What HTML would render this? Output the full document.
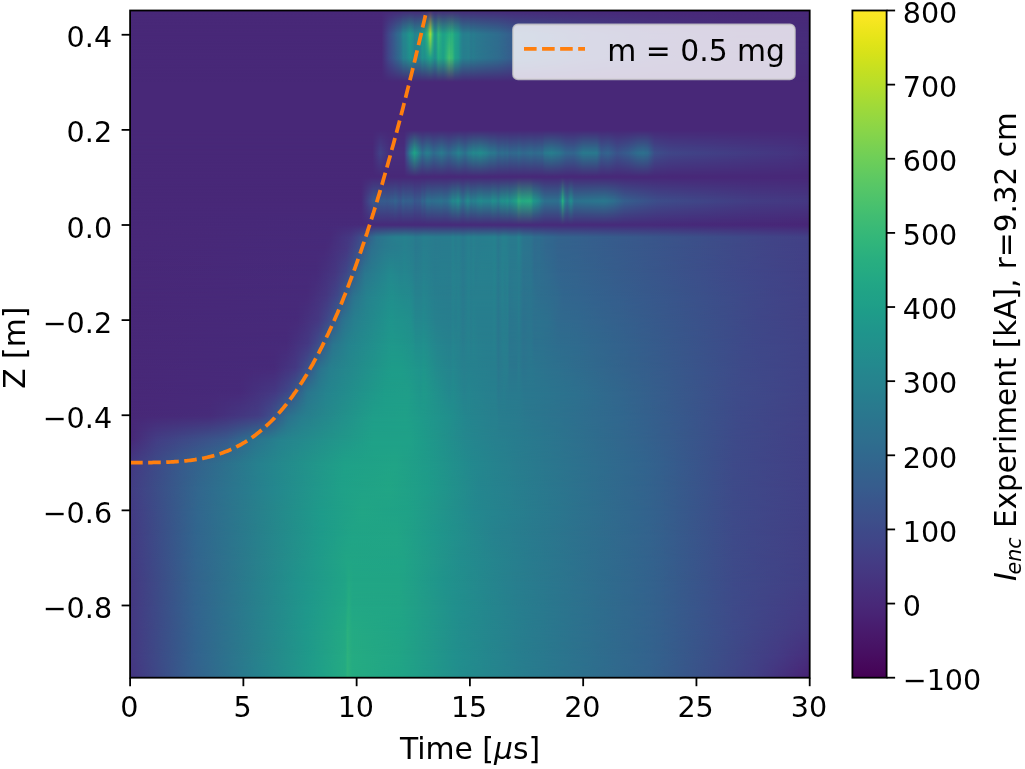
<!DOCTYPE html>
<html><head><meta charset="utf-8"><title>I_enc Experiment</title>
<style>html,body{margin:0;padding:0;background:#fff}svg{display:block}text{font-family:'DejaVu Sans','Liberation Sans',sans-serif;font-size:28.6px;fill:#000}</style></head>
<body>
<svg width="1025" height="769" viewBox="0 0 1025 769">
<defs>
<linearGradient id="r0"><stop offset="0" stop-color="#453581"/><stop offset="0.085" stop-color="#355e8d"/><stop offset="0.1883" stop-color="#26828e"/><stop offset="0.2817" stop-color="#1fa188"/><stop offset="0.3167" stop-color="#25ab82"/><stop offset="0.32" stop-color="#2db27d"/><stop offset="0.3267" stop-color="#25ac82"/><stop offset="0.4" stop-color="#20a486"/><stop offset="0.4867" stop-color="#228d8d"/><stop offset="0.5867" stop-color="#287c8e"/><stop offset="0.7633" stop-color="#33638d"/><stop offset="0.92" stop-color="#423f85"/><stop offset="0.99" stop-color="#482677"/><stop offset="1" stop-color="#482374"/></linearGradient>
<linearGradient id="r1"><stop offset="0" stop-color="#453882"/><stop offset="0.09833" stop-color="#32648e"/><stop offset="0.2633" stop-color="#1f9a8a"/><stop offset="0.3167" stop-color="#24aa83"/><stop offset="0.32" stop-color="#2cb17e"/><stop offset="0.3267" stop-color="#25ab82"/><stop offset="0.395" stop-color="#21a585"/><stop offset="0.48" stop-color="#218f8d"/><stop offset="0.5717" stop-color="#277e8e"/><stop offset="0.7683" stop-color="#33628d"/><stop offset="0.9533" stop-color="#443b84"/><stop offset="1" stop-color="#472f7d"/></linearGradient>
<linearGradient id="r2"><stop offset="0" stop-color="#453882"/><stop offset="0.09833" stop-color="#32648e"/><stop offset="0.2583" stop-color="#1f988b"/><stop offset="0.3167" stop-color="#23a983"/><stop offset="0.32" stop-color="#2ab07f"/><stop offset="0.3267" stop-color="#24aa83"/><stop offset="0.4017" stop-color="#20a486"/><stop offset="0.4867" stop-color="#228d8d"/><stop offset="0.5867" stop-color="#287c8e"/><stop offset="0.7683" stop-color="#33628d"/><stop offset="0.8883" stop-color="#3e4a89"/><stop offset="1" stop-color="#453882"/></linearGradient>
<linearGradient id="r3"><stop offset="0" stop-color="#453882"/><stop offset="0.09667" stop-color="#32648e"/><stop offset="0.2617" stop-color="#1f988b"/><stop offset="0.3167" stop-color="#21a685"/><stop offset="0.3217" stop-color="#26ad81"/><stop offset="0.3267" stop-color="#22a785"/><stop offset="0.3967" stop-color="#21a585"/><stop offset="0.48" stop-color="#218f8d"/><stop offset="0.5717" stop-color="#277e8e"/><stop offset="0.7683" stop-color="#33628d"/><stop offset="0.8883" stop-color="#3e4a89"/><stop offset="1" stop-color="#443b84"/></linearGradient>
<linearGradient id="r4"><stop offset="0" stop-color="#453882"/><stop offset="0.09333" stop-color="#33638d"/><stop offset="0.2467" stop-color="#20938c"/><stop offset="0.3167" stop-color="#20a486"/><stop offset="0.3217" stop-color="#23a983"/><stop offset="0.3283" stop-color="#21a685"/><stop offset="0.395" stop-color="#21a585"/><stop offset="0.4617" stop-color="#20938c"/><stop offset="0.5567" stop-color="#27808e"/><stop offset="0.7683" stop-color="#33628d"/><stop offset="0.8883" stop-color="#3e4a89"/><stop offset="1" stop-color="#423f85"/></linearGradient>
<linearGradient id="r5"><stop offset="0" stop-color="#443983"/><stop offset="0.09667" stop-color="#32658e"/><stop offset="0.275" stop-color="#1f9a8a"/><stop offset="0.3183" stop-color="#21a585"/><stop offset="0.4017" stop-color="#20a486"/><stop offset="0.4867" stop-color="#228d8d"/><stop offset="0.5833" stop-color="#287c8e"/><stop offset="0.7683" stop-color="#33628d"/><stop offset="0.8883" stop-color="#3e4a89"/><stop offset="1" stop-color="#423f85"/></linearGradient>
<linearGradient id="r6"><stop offset="0" stop-color="#443a83"/><stop offset="0.09833" stop-color="#31668e"/><stop offset="0.2817" stop-color="#1e9b8a"/><stop offset="0.3267" stop-color="#20a486"/><stop offset="0.3917" stop-color="#21a585"/><stop offset="0.45" stop-color="#1f978b"/><stop offset="0.535" stop-color="#26828e"/><stop offset="0.7633" stop-color="#33638d"/><stop offset="0.8883" stop-color="#3e4a89"/><stop offset="1" stop-color="#423f85"/></linearGradient>
<linearGradient id="r7"><stop offset="0" stop-color="#443b84"/><stop offset="0.1" stop-color="#31678e"/><stop offset="0.2817" stop-color="#1e9b8a"/><stop offset="0.3417" stop-color="#21a585"/><stop offset="0.4083" stop-color="#1fa287"/><stop offset="0.505" stop-color="#23888e"/><stop offset="0.7683" stop-color="#33628d"/><stop offset="0.8883" stop-color="#3e4a89"/><stop offset="1" stop-color="#424086"/></linearGradient>
<linearGradient id="r8"><stop offset="0" stop-color="#433d84"/><stop offset="0.1033" stop-color="#31688e"/><stop offset="0.2117" stop-color="#24878e"/><stop offset="0.3133" stop-color="#1fa188"/><stop offset="0.3817" stop-color="#21a585"/><stop offset="0.4367" stop-color="#1e9c89"/><stop offset="0.5133" stop-color="#24868e"/><stop offset="0.7683" stop-color="#33628d"/><stop offset="0.8883" stop-color="#3e4a89"/><stop offset="1" stop-color="#424086"/></linearGradient>
<linearGradient id="r9"><stop offset="0" stop-color="#443983"/><stop offset="0.075" stop-color="#375a8c"/><stop offset="0.19" stop-color="#26818e"/><stop offset="0.315" stop-color="#1fa088"/><stop offset="0.39" stop-color="#20a486"/><stop offset="0.4433" stop-color="#1f998a"/><stop offset="0.5033" stop-color="#23888e"/><stop offset="0.57" stop-color="#287d8e"/><stop offset="0.7583" stop-color="#32648e"/><stop offset="0.8883" stop-color="#3e4a89"/><stop offset="1" stop-color="#424086"/></linearGradient>
<linearGradient id="r10"><stop offset="0" stop-color="#482878"/><stop offset="0.03833" stop-color="#433d84"/><stop offset="0.1417" stop-color="#38598c"/><stop offset="0.1817" stop-color="#2c718e"/><stop offset="0.2217" stop-color="#26828e"/><stop offset="0.3583" stop-color="#1fa188"/><stop offset="0.4117" stop-color="#1fa188"/><stop offset="0.4283" stop-color="#1e9c89"/><stop offset="0.495" stop-color="#24878e"/><stop offset="0.5383" stop-color="#27808e"/><stop offset="0.5467" stop-color="#277f8e"/><stop offset="0.5717" stop-color="#287c8e"/><stop offset="0.7533" stop-color="#33638d"/><stop offset="0.8933" stop-color="#3e4a89"/><stop offset="1" stop-color="#424086"/></linearGradient>
<linearGradient id="r11"><stop offset="0" stop-color="#482878"/><stop offset="0.1167" stop-color="#472c7a"/><stop offset="0.1883" stop-color="#433d84"/><stop offset="0.2067" stop-color="#3e4c8a"/><stop offset="0.2317" stop-color="#2d708e"/><stop offset="0.2533" stop-color="#287d8e"/><stop offset="0.3583" stop-color="#1f9e89"/><stop offset="0.405" stop-color="#1fa088"/><stop offset="0.4283" stop-color="#1f9a8a"/><stop offset="0.4733" stop-color="#218e8d"/><stop offset="0.4933" stop-color="#24868e"/><stop offset="0.5317" stop-color="#27808e"/><stop offset="0.5383" stop-color="#27808e"/><stop offset="0.5433" stop-color="#287d8e"/><stop offset="0.5567" stop-color="#287c8e"/><stop offset="0.57" stop-color="#297b8e"/><stop offset="0.5833" stop-color="#2a788e"/><stop offset="0.7233" stop-color="#31678e"/><stop offset="0.895" stop-color="#3e4a89"/><stop offset="1" stop-color="#424186"/></linearGradient>
<linearGradient id="r12"><stop offset="0" stop-color="#482878"/><stop offset="0.1617" stop-color="#472a7a"/><stop offset="0.2133" stop-color="#443983"/><stop offset="0.2333" stop-color="#3e4989"/><stop offset="0.26" stop-color="#2b748e"/><stop offset="0.2883" stop-color="#25838e"/><stop offset="0.375" stop-color="#1e9d89"/><stop offset="0.4083" stop-color="#1f9e89"/><stop offset="0.4267" stop-color="#1f968b"/><stop offset="0.4317" stop-color="#1f998a"/><stop offset="0.47" stop-color="#23888e"/><stop offset="0.475" stop-color="#228b8d"/><stop offset="0.4917" stop-color="#26828e"/><stop offset="0.4983" stop-color="#25848e"/><stop offset="0.5317" stop-color="#277f8e"/><stop offset="0.5383" stop-color="#277f8e"/><stop offset="0.5417" stop-color="#297a8e"/><stop offset="0.55" stop-color="#287d8e"/><stop offset="0.5567" stop-color="#297a8e"/><stop offset="0.57" stop-color="#297a8e"/><stop offset="0.5733" stop-color="#297a8e"/><stop offset="0.58" stop-color="#2a778e"/><stop offset="0.5917" stop-color="#2a778e"/><stop offset="0.6583" stop-color="#2d708e"/><stop offset="0.8883" stop-color="#3e4c8a"/><stop offset="1" stop-color="#414287"/></linearGradient>
<linearGradient id="r13"><stop offset="0" stop-color="#482878"/><stop offset="0.2117" stop-color="#472a7a"/><stop offset="0.2433" stop-color="#443983"/><stop offset="0.2583" stop-color="#3e4c8a"/><stop offset="0.2783" stop-color="#2c718e"/><stop offset="0.295" stop-color="#277f8e"/><stop offset="0.385" stop-color="#1e9c89"/><stop offset="0.4" stop-color="#1e9c89"/><stop offset="0.4167" stop-color="#1f978b"/><stop offset="0.4283" stop-color="#1f948c"/><stop offset="0.4317" stop-color="#1f968b"/><stop offset="0.4517" stop-color="#238a8d"/><stop offset="0.4717" stop-color="#25848e"/><stop offset="0.475" stop-color="#24878e"/><stop offset="0.48" stop-color="#25848e"/><stop offset="0.4917" stop-color="#27808e"/><stop offset="0.5" stop-color="#26818e"/><stop offset="0.5317" stop-color="#277e8e"/><stop offset="0.5383" stop-color="#277e8e"/><stop offset="0.5417" stop-color="#2a788e"/><stop offset="0.55" stop-color="#287d8e"/><stop offset="0.555" stop-color="#287d8e"/><stop offset="0.5583" stop-color="#2a778e"/><stop offset="0.5683" stop-color="#2a768e"/><stop offset="0.5717" stop-color="#297b8e"/><stop offset="0.5783" stop-color="#2b748e"/><stop offset="0.59" stop-color="#2a778e"/><stop offset="0.5967" stop-color="#2b758e"/><stop offset="0.63" stop-color="#2d708e"/><stop offset="0.9033" stop-color="#3e4a89"/><stop offset="1" stop-color="#414287"/></linearGradient>
<linearGradient id="r14"><stop offset="0" stop-color="#482878"/><stop offset="0.23" stop-color="#472a7a"/><stop offset="0.2617" stop-color="#443983"/><stop offset="0.2767" stop-color="#3e4c8a"/><stop offset="0.2983" stop-color="#2b748e"/><stop offset="0.3217" stop-color="#25838e"/><stop offset="0.385" stop-color="#1f988b"/><stop offset="0.4" stop-color="#1f968b"/><stop offset="0.4167" stop-color="#20928c"/><stop offset="0.42" stop-color="#218e8d"/><stop offset="0.4283" stop-color="#218e8d"/><stop offset="0.4317" stop-color="#21908d"/><stop offset="0.4517" stop-color="#25858e"/><stop offset="0.4717" stop-color="#26818e"/><stop offset="0.475" stop-color="#25858e"/><stop offset="0.48" stop-color="#26828e"/><stop offset="0.4833" stop-color="#26828e"/><stop offset="0.49" stop-color="#287d8e"/><stop offset="0.4983" stop-color="#26828e"/><stop offset="0.5017" stop-color="#277f8e"/><stop offset="0.505" stop-color="#26828e"/><stop offset="0.5117" stop-color="#277f8e"/><stop offset="0.5317" stop-color="#277e8e"/><stop offset="0.5367" stop-color="#27808e"/><stop offset="0.5417" stop-color="#2a778e"/><stop offset="0.5483" stop-color="#277e8e"/><stop offset="0.555" stop-color="#287d8e"/><stop offset="0.5583" stop-color="#2a768e"/><stop offset="0.5667" stop-color="#2a778e"/><stop offset="0.5733" stop-color="#29798e"/><stop offset="0.5783" stop-color="#2c738e"/><stop offset="0.59" stop-color="#2a768e"/><stop offset="0.595" stop-color="#2c718e"/><stop offset="0.6033" stop-color="#2c728e"/><stop offset="0.63" stop-color="#2e6d8e"/><stop offset="0.6567" stop-color="#2f6b8e"/><stop offset="0.9067" stop-color="#3e4989"/><stop offset="1" stop-color="#414287"/></linearGradient>
<linearGradient id="r15"><stop offset="0" stop-color="#482878"/><stop offset="0.245" stop-color="#472a7a"/><stop offset="0.2767" stop-color="#453882"/><stop offset="0.2933" stop-color="#3e4c8a"/><stop offset="0.3133" stop-color="#2c718e"/><stop offset="0.33" stop-color="#277f8e"/><stop offset="0.3833" stop-color="#1f948c"/><stop offset="0.3933" stop-color="#20928c"/><stop offset="0.4" stop-color="#20928c"/><stop offset="0.4133" stop-color="#218f8d"/><stop offset="0.42" stop-color="#24878e"/><stop offset="0.4283" stop-color="#24878e"/><stop offset="0.4317" stop-color="#23898e"/><stop offset="0.45" stop-color="#27808e"/><stop offset="0.4717" stop-color="#277e8e"/><stop offset="0.475" stop-color="#26828e"/><stop offset="0.4783" stop-color="#277e8e"/><stop offset="0.4833" stop-color="#26818e"/><stop offset="0.49" stop-color="#297b8e"/><stop offset="0.4983" stop-color="#26818e"/><stop offset="0.5017" stop-color="#287d8e"/><stop offset="0.505" stop-color="#26818e"/><stop offset="0.51" stop-color="#277e8e"/><stop offset="0.5183" stop-color="#277e8e"/><stop offset="0.5317" stop-color="#277e8e"/><stop offset="0.5367" stop-color="#27808e"/><stop offset="0.5417" stop-color="#2a778e"/><stop offset="0.5483" stop-color="#277e8e"/><stop offset="0.5533" stop-color="#287c8e"/><stop offset="0.555" stop-color="#277e8e"/><stop offset="0.5583" stop-color="#2a768e"/><stop offset="0.5667" stop-color="#2a778e"/><stop offset="0.57" stop-color="#29798e"/><stop offset="0.5717" stop-color="#287c8e"/><stop offset="0.5783" stop-color="#2c728e"/><stop offset="0.59" stop-color="#2b758e"/><stop offset="0.595" stop-color="#2d718e"/><stop offset="0.6017" stop-color="#2c728e"/><stop offset="0.615" stop-color="#2d708e"/><stop offset="0.63" stop-color="#306a8e"/><stop offset="0.6567" stop-color="#31688e"/><stop offset="0.6633" stop-color="#31678e"/><stop offset="0.9233" stop-color="#3f4788"/><stop offset="1" stop-color="#424186"/></linearGradient>
<linearGradient id="r16"><stop offset="0" stop-color="#482878"/><stop offset="0.26" stop-color="#472a7a"/><stop offset="0.2883" stop-color="#453781"/><stop offset="0.305" stop-color="#3f4788"/><stop offset="0.3283" stop-color="#2c728e"/><stop offset="0.3483" stop-color="#26828e"/><stop offset="0.385" stop-color="#218f8d"/><stop offset="0.4" stop-color="#228b8d"/><stop offset="0.4133" stop-color="#23898e"/><stop offset="0.42" stop-color="#26828e"/><stop offset="0.4283" stop-color="#26828e"/><stop offset="0.4317" stop-color="#25858e"/><stop offset="0.45" stop-color="#277e8e"/><stop offset="0.4717" stop-color="#287d8e"/><stop offset="0.475" stop-color="#26828e"/><stop offset="0.48" stop-color="#277f8e"/><stop offset="0.4833" stop-color="#26818e"/><stop offset="0.49" stop-color="#297a8e"/><stop offset="0.4983" stop-color="#26818e"/><stop offset="0.5017" stop-color="#277e8e"/><stop offset="0.5067" stop-color="#277f8e"/><stop offset="0.5317" stop-color="#277f8e"/><stop offset="0.5367" stop-color="#26818e"/><stop offset="0.5417" stop-color="#2a788e"/><stop offset="0.5483" stop-color="#27808e"/><stop offset="0.5517" stop-color="#287c8e"/><stop offset="0.555" stop-color="#277f8e"/><stop offset="0.5583" stop-color="#2a778e"/><stop offset="0.565" stop-color="#297a8e"/><stop offset="0.57" stop-color="#297a8e"/><stop offset="0.5717" stop-color="#287d8e"/><stop offset="0.5783" stop-color="#2c738e"/><stop offset="0.59" stop-color="#2b748e"/><stop offset="0.5967" stop-color="#2d708e"/><stop offset="0.6033" stop-color="#2e6e8e"/><stop offset="0.6283" stop-color="#306a8e"/><stop offset="0.6367" stop-color="#31668e"/><stop offset="0.6567" stop-color="#32658e"/><stop offset="0.6633" stop-color="#32648e"/><stop offset="0.9433" stop-color="#404588"/><stop offset="1" stop-color="#424186"/></linearGradient>
<linearGradient id="r17"><stop offset="0" stop-color="#482878"/><stop offset="0.2733" stop-color="#472a7a"/><stop offset="0.3017" stop-color="#453781"/><stop offset="0.3183" stop-color="#3f4788"/><stop offset="0.345" stop-color="#2a768e"/><stop offset="0.3833" stop-color="#23898e"/><stop offset="0.4" stop-color="#25848e"/><stop offset="0.4033" stop-color="#24868e"/><stop offset="0.415" stop-color="#26828e"/><stop offset="0.42" stop-color="#287d8e"/><stop offset="0.4283" stop-color="#277f8e"/><stop offset="0.4317" stop-color="#26828e"/><stop offset="0.4483" stop-color="#287c8e"/><stop offset="0.46" stop-color="#277e8e"/><stop offset="0.4717" stop-color="#287d8e"/><stop offset="0.475" stop-color="#26828e"/><stop offset="0.48" stop-color="#277f8e"/><stop offset="0.4833" stop-color="#27808e"/><stop offset="0.49" stop-color="#297a8e"/><stop offset="0.4983" stop-color="#26818e"/><stop offset="0.5017" stop-color="#277e8e"/><stop offset="0.505" stop-color="#26828e"/><stop offset="0.5083" stop-color="#287d8e"/><stop offset="0.5167" stop-color="#27808e"/><stop offset="0.5317" stop-color="#277f8e"/><stop offset="0.5367" stop-color="#26828e"/><stop offset="0.5417" stop-color="#29798e"/><stop offset="0.5483" stop-color="#26818e"/><stop offset="0.5517" stop-color="#287d8e"/><stop offset="0.555" stop-color="#27808e"/><stop offset="0.5583" stop-color="#29798e"/><stop offset="0.5667" stop-color="#297a8e"/><stop offset="0.5733" stop-color="#287c8e"/><stop offset="0.5783" stop-color="#2c738e"/><stop offset="0.59" stop-color="#2b748e"/><stop offset="0.595" stop-color="#2e6d8e"/><stop offset="0.6017" stop-color="#2e6e8e"/><stop offset="0.6167" stop-color="#306a8e"/><stop offset="0.63" stop-color="#32658e"/><stop offset="0.6567" stop-color="#33638d"/><stop offset="0.8983" stop-color="#3f4889"/><stop offset="1" stop-color="#424086"/></linearGradient>
<linearGradient id="r18"><stop offset="0" stop-color="#482878"/><stop offset="0.2867" stop-color="#472a7a"/><stop offset="0.3183" stop-color="#453882"/><stop offset="0.3367" stop-color="#3c4f8a"/><stop offset="0.355" stop-color="#2d708e"/><stop offset="0.375" stop-color="#297b8e"/><stop offset="0.3933" stop-color="#277e8e"/><stop offset="0.4" stop-color="#277f8e"/><stop offset="0.4033" stop-color="#26818e"/><stop offset="0.4167" stop-color="#287d8e"/><stop offset="0.42" stop-color="#29798e"/><stop offset="0.4283" stop-color="#287c8e"/><stop offset="0.4317" stop-color="#277f8e"/><stop offset="0.45" stop-color="#297b8e"/><stop offset="0.46" stop-color="#287c8e"/><stop offset="0.4717" stop-color="#287c8e"/><stop offset="0.475" stop-color="#26818e"/><stop offset="0.4783" stop-color="#287c8e"/><stop offset="0.4833" stop-color="#277f8e"/><stop offset="0.49" stop-color="#29798e"/><stop offset="0.4983" stop-color="#27808e"/><stop offset="0.5017" stop-color="#287c8e"/><stop offset="0.505" stop-color="#27808e"/><stop offset="0.51" stop-color="#287d8e"/><stop offset="0.5183" stop-color="#277e8e"/><stop offset="0.5317" stop-color="#277f8e"/><stop offset="0.5367" stop-color="#26818e"/><stop offset="0.5417" stop-color="#2a788e"/><stop offset="0.5483" stop-color="#27808e"/><stop offset="0.5533" stop-color="#277f8e"/><stop offset="0.5567" stop-color="#287c8e"/><stop offset="0.56" stop-color="#297a8e"/><stop offset="0.5683" stop-color="#297a8e"/><stop offset="0.5717" stop-color="#26818e"/><stop offset="0.5783" stop-color="#2b758e"/><stop offset="0.59" stop-color="#2c738e"/><stop offset="0.595" stop-color="#2f6c8e"/><stop offset="0.6017" stop-color="#2e6d8e"/><stop offset="0.6117" stop-color="#31688e"/><stop offset="0.6217" stop-color="#31668e"/><stop offset="0.63" stop-color="#33638d"/><stop offset="0.6567" stop-color="#34618d"/><stop offset="0.9433" stop-color="#414487"/><stop offset="1" stop-color="#424086"/></linearGradient>
<linearGradient id="r19"><stop offset="0" stop-color="#482878"/><stop offset="0.2933" stop-color="#472a7a"/><stop offset="0.325" stop-color="#443983"/><stop offset="0.3417" stop-color="#3d4e8a"/><stop offset="0.3617" stop-color="#2d718e"/><stop offset="0.385" stop-color="#287d8e"/><stop offset="0.3917" stop-color="#277f8e"/><stop offset="0.4" stop-color="#277f8e"/><stop offset="0.4033" stop-color="#26818e"/><stop offset="0.4167" stop-color="#287d8e"/><stop offset="0.42" stop-color="#29798e"/><stop offset="0.4283" stop-color="#287c8e"/><stop offset="0.4317" stop-color="#277f8e"/><stop offset="0.45" stop-color="#297b8e"/><stop offset="0.46" stop-color="#287c8e"/><stop offset="0.4717" stop-color="#287c8e"/><stop offset="0.475" stop-color="#26818e"/><stop offset="0.4783" stop-color="#287c8e"/><stop offset="0.4833" stop-color="#277f8e"/><stop offset="0.49" stop-color="#29798e"/><stop offset="0.4983" stop-color="#27808e"/><stop offset="0.5017" stop-color="#287c8e"/><stop offset="0.505" stop-color="#27808e"/><stop offset="0.51" stop-color="#287d8e"/><stop offset="0.5183" stop-color="#277e8e"/><stop offset="0.5317" stop-color="#277f8e"/><stop offset="0.5367" stop-color="#26818e"/><stop offset="0.5417" stop-color="#2a788e"/><stop offset="0.5483" stop-color="#27808e"/><stop offset="0.5533" stop-color="#277f8e"/><stop offset="0.5567" stop-color="#287c8e"/><stop offset="0.56" stop-color="#297a8e"/><stop offset="0.5683" stop-color="#297a8e"/><stop offset="0.5717" stop-color="#26818e"/><stop offset="0.5783" stop-color="#2b758e"/><stop offset="0.59" stop-color="#2c738e"/><stop offset="0.595" stop-color="#2f6c8e"/><stop offset="0.6017" stop-color="#2e6d8e"/><stop offset="0.6117" stop-color="#31688e"/><stop offset="0.6217" stop-color="#31668e"/><stop offset="0.63" stop-color="#33638d"/><stop offset="0.6567" stop-color="#34618d"/><stop offset="0.9433" stop-color="#414487"/><stop offset="1" stop-color="#424086"/></linearGradient>
<linearGradient id="r20"><stop offset="0" stop-color="#482878"/><stop offset="0.3517" stop-color="#472a7a"/><stop offset="0.7667" stop-color="#472a7a"/><stop offset="1" stop-color="#482677"/></linearGradient>
<linearGradient id="r21"><stop offset="0" stop-color="#482878"/><stop offset="0.34" stop-color="#482878"/><stop offset="0.3533" stop-color="#3e4c8a"/><stop offset="0.3583" stop-color="#375a8c"/><stop offset="0.375" stop-color="#365c8d"/><stop offset="0.3783" stop-color="#375a8c"/><stop offset="0.385" stop-color="#355f8d"/><stop offset="0.3867" stop-color="#365d8d"/><stop offset="0.39" stop-color="#32658e"/><stop offset="0.395" stop-color="#375b8d"/><stop offset="0.3983" stop-color="#38588c"/><stop offset="0.4017" stop-color="#32658e"/><stop offset="0.405" stop-color="#355f8d"/><stop offset="0.4133" stop-color="#34618d"/><stop offset="0.4167" stop-color="#365d8d"/><stop offset="0.4183" stop-color="#39558c"/><stop offset="0.4233" stop-color="#375a8c"/><stop offset="0.4267" stop-color="#38598c"/><stop offset="0.43" stop-color="#31678e"/><stop offset="0.4333" stop-color="#33638d"/><stop offset="0.4367" stop-color="#2c718e"/><stop offset="0.4417" stop-color="#2c718e"/><stop offset="0.4433" stop-color="#2e6e8e"/><stop offset="0.4583" stop-color="#2b748e"/><stop offset="0.4617" stop-color="#2e6f8e"/><stop offset="0.4667" stop-color="#2c718e"/><stop offset="0.4717" stop-color="#277e8e"/><stop offset="0.475" stop-color="#228b8d"/><stop offset="0.4783" stop-color="#25858e"/><stop offset="0.4817" stop-color="#21908d"/><stop offset="0.4833" stop-color="#21918c"/><stop offset="0.4867" stop-color="#277e8e"/><stop offset="0.49" stop-color="#2c738e"/><stop offset="0.4967" stop-color="#228d8d"/><stop offset="0.4983" stop-color="#238a8d"/><stop offset="0.5017" stop-color="#287c8e"/><stop offset="0.505" stop-color="#25838e"/><stop offset="0.5083" stop-color="#26818e"/><stop offset="0.5117" stop-color="#23898e"/><stop offset="0.5167" stop-color="#228c8d"/><stop offset="0.52" stop-color="#24878e"/><stop offset="0.53" stop-color="#24868e"/><stop offset="0.5333" stop-color="#21908d"/><stop offset="0.5383" stop-color="#228d8d"/><stop offset="0.5417" stop-color="#26818e"/><stop offset="0.545" stop-color="#218e8d"/><stop offset="0.5483" stop-color="#20938c"/><stop offset="0.5517" stop-color="#21908d"/><stop offset="0.555" stop-color="#1f988b"/><stop offset="0.5583" stop-color="#218e8d"/><stop offset="0.5683" stop-color="#1fa187"/><stop offset="0.5717" stop-color="#2eb37c"/><stop offset="0.5767" stop-color="#24aa83"/><stop offset="0.5883" stop-color="#27ad81"/><stop offset="0.59" stop-color="#25ac82"/><stop offset="0.5933" stop-color="#1f998a"/><stop offset="0.6017" stop-color="#238a8d"/><stop offset="0.605" stop-color="#287d8e"/><stop offset="0.61" stop-color="#2d718e"/><stop offset="0.63" stop-color="#2d708e"/><stop offset="0.6333" stop-color="#26828e"/><stop offset="0.635" stop-color="#1e9c89"/><stop offset="0.6367" stop-color="#2fb47c"/><stop offset="0.6383" stop-color="#1e9c89"/><stop offset="0.64" stop-color="#26828e"/><stop offset="0.6433" stop-color="#2b748e"/><stop offset="0.6483" stop-color="#218e8d"/><stop offset="0.65" stop-color="#238a8d"/><stop offset="0.6533" stop-color="#2c728e"/><stop offset="0.6983" stop-color="#2a788e"/><stop offset="0.7117" stop-color="#2e6f8e"/><stop offset="0.7267" stop-color="#355f8d"/><stop offset="0.7767" stop-color="#3d4d8a"/><stop offset="0.9117" stop-color="#433d84"/><stop offset="1" stop-color="#453882"/></linearGradient>
<linearGradient id="r23"><stop offset="0" stop-color="#482878"/><stop offset="0.3567" stop-color="#482878"/><stop offset="0.3683" stop-color="#414287"/><stop offset="0.3817" stop-color="#472f7d"/><stop offset="0.4033" stop-color="#472f7d"/><stop offset="0.4067" stop-color="#3c508b"/><stop offset="0.4117" stop-color="#297b8e"/><stop offset="0.4167" stop-color="#1f9a8a"/><stop offset="0.4183" stop-color="#20a486"/><stop offset="0.4217" stop-color="#1f978b"/><stop offset="0.43" stop-color="#2e6e8e"/><stop offset="0.4367" stop-color="#277f8e"/><stop offset="0.44" stop-color="#287c8e"/><stop offset="0.4467" stop-color="#2f6b8e"/><stop offset="0.4583" stop-color="#297b8e"/><stop offset="0.4683" stop-color="#30698e"/><stop offset="0.4717" stop-color="#2f6c8e"/><stop offset="0.475" stop-color="#2b748e"/><stop offset="0.4783" stop-color="#2a768e"/><stop offset="0.4833" stop-color="#25838e"/><stop offset="0.4917" stop-color="#2c728e"/><stop offset="0.4933" stop-color="#2c718e"/><stop offset="0.4983" stop-color="#27808e"/><stop offset="0.5017" stop-color="#26828e"/><stop offset="0.505" stop-color="#238a8d"/><stop offset="0.5083" stop-color="#24878e"/><stop offset="0.515" stop-color="#228d8d"/><stop offset="0.525" stop-color="#26828e"/><stop offset="0.53" stop-color="#29798e"/><stop offset="0.5367" stop-color="#2a788e"/><stop offset="0.5417" stop-color="#2f6b8e"/><stop offset="0.5483" stop-color="#2d708e"/><stop offset="0.5517" stop-color="#2f6b8e"/><stop offset="0.555" stop-color="#2e6f8e"/><stop offset="0.5583" stop-color="#31678e"/><stop offset="0.565" stop-color="#2f6b8e"/><stop offset="0.5683" stop-color="#30698e"/><stop offset="0.5717" stop-color="#2d708e"/><stop offset="0.5783" stop-color="#31688e"/><stop offset="0.59" stop-color="#2e6f8e"/><stop offset="0.595" stop-color="#306a8e"/><stop offset="0.6017" stop-color="#2e6e8e"/><stop offset="0.6067" stop-color="#2f6c8e"/><stop offset="0.61" stop-color="#29798e"/><stop offset="0.62" stop-color="#277f8e"/><stop offset="0.6317" stop-color="#2a768e"/><stop offset="0.6417" stop-color="#31678e"/><stop offset="0.6533" stop-color="#32658e"/><stop offset="0.6667" stop-color="#297a8e"/><stop offset="0.6867" stop-color="#29798e"/><stop offset="0.6933" stop-color="#355f8d"/><stop offset="0.7033" stop-color="#32658e"/><stop offset="0.7167" stop-color="#3a538b"/><stop offset="0.7333" stop-color="#355e8d"/><stop offset="0.7467" stop-color="#2e6e8e"/><stop offset="0.755" stop-color="#2d718e"/><stop offset="0.7617" stop-color="#2f6c8e"/><stop offset="0.7717" stop-color="#3c4f8a"/><stop offset="0.7933" stop-color="#404688"/><stop offset="0.9717" stop-color="#453581"/><stop offset="1" stop-color="#46307e"/></linearGradient>
<linearGradient id="r27"><stop offset="0" stop-color="#482878"/><stop offset="0.37" stop-color="#482878"/><stop offset="0.38" stop-color="#404588"/><stop offset="0.3883" stop-color="#38598c"/><stop offset="0.3967" stop-color="#2e6d8e"/><stop offset="0.4" stop-color="#2a778e"/><stop offset="0.4017" stop-color="#26828e"/><stop offset="0.405" stop-color="#26828e"/><stop offset="0.4117" stop-color="#20928c"/><stop offset="0.4167" stop-color="#23888e"/><stop offset="0.4183" stop-color="#27808e"/><stop offset="0.4267" stop-color="#26828e"/><stop offset="0.43" stop-color="#20928c"/><stop offset="0.4333" stop-color="#218e8d"/><stop offset="0.4417" stop-color="#20a486"/><stop offset="0.4467" stop-color="#20938c"/><stop offset="0.4483" stop-color="#228c8d"/><stop offset="0.45" stop-color="#20928c"/><stop offset="0.4517" stop-color="#1f9e89"/><stop offset="0.4533" stop-color="#25ac82"/><stop offset="0.46" stop-color="#1fa088"/><stop offset="0.4617" stop-color="#1fa187"/><stop offset="0.465" stop-color="#2ab07f"/><stop offset="0.4683" stop-color="#40bd72"/><stop offset="0.47" stop-color="#46c06f"/><stop offset="0.4717" stop-color="#3bbb75"/><stop offset="0.4733" stop-color="#3bbb75"/><stop offset="0.475" stop-color="#34b679"/><stop offset="0.4767" stop-color="#24aa83"/><stop offset="0.4783" stop-color="#1fa188"/><stop offset="0.4833" stop-color="#1f988b"/><stop offset="0.4867" stop-color="#24878e"/><stop offset="0.49" stop-color="#277e8e"/><stop offset="0.4983" stop-color="#27808e"/><stop offset="0.5017" stop-color="#29798e"/><stop offset="0.505" stop-color="#287c8e"/><stop offset="0.51" stop-color="#2a788e"/><stop offset="0.5417" stop-color="#2f6c8e"/><stop offset="0.565" stop-color="#375b8d"/><stop offset="0.665" stop-color="#404588"/><stop offset="0.7667" stop-color="#453781"/><stop offset="0.895" stop-color="#472d7b"/><stop offset="1" stop-color="#472c7a"/></linearGradient>
<linearGradient id="r28"><stop offset="0" stop-color="#482878"/><stop offset="0.37" stop-color="#482878"/><stop offset="0.38" stop-color="#404588"/><stop offset="0.3883" stop-color="#375a8c"/><stop offset="0.3933" stop-color="#31688e"/><stop offset="0.3983" stop-color="#2c728e"/><stop offset="0.4017" stop-color="#25848e"/><stop offset="0.405" stop-color="#24868e"/><stop offset="0.4117" stop-color="#1f978b"/><stop offset="0.4167" stop-color="#228d8d"/><stop offset="0.4183" stop-color="#25838e"/><stop offset="0.4267" stop-color="#23898e"/><stop offset="0.43" stop-color="#1e9b8a"/><stop offset="0.4333" stop-color="#1f9a8a"/><stop offset="0.435" stop-color="#22a785"/><stop offset="0.4367" stop-color="#2cb17e"/><stop offset="0.4383" stop-color="#3fbc73"/><stop offset="0.44" stop-color="#73d056"/><stop offset="0.4417" stop-color="#a8db34"/><stop offset="0.4433" stop-color="#73d056"/><stop offset="0.445" stop-color="#3fbc73"/><stop offset="0.4467" stop-color="#23a983"/><stop offset="0.4483" stop-color="#1f958b"/><stop offset="0.45" stop-color="#1f988b"/><stop offset="0.4517" stop-color="#21a685"/><stop offset="0.4533" stop-color="#34b679"/><stop offset="0.4567" stop-color="#25ab82"/><stop offset="0.46" stop-color="#1fa088"/><stop offset="0.4633" stop-color="#1fa287"/><stop offset="0.47" stop-color="#29af7f"/><stop offset="0.4717" stop-color="#26ad81"/><stop offset="0.4733" stop-color="#2ab07f"/><stop offset="0.475" stop-color="#28ae80"/><stop offset="0.4767" stop-color="#21a585"/><stop offset="0.48" stop-color="#1f9e89"/><stop offset="0.4833" stop-color="#1f988b"/><stop offset="0.4867" stop-color="#24878e"/><stop offset="0.49" stop-color="#277e8e"/><stop offset="0.4983" stop-color="#27808e"/><stop offset="0.5017" stop-color="#29798e"/><stop offset="0.505" stop-color="#287c8e"/><stop offset="0.51" stop-color="#2a788e"/><stop offset="0.5417" stop-color="#2f6c8e"/><stop offset="0.565" stop-color="#375b8d"/><stop offset="0.665" stop-color="#404588"/><stop offset="0.7667" stop-color="#453781"/><stop offset="0.895" stop-color="#472d7b"/><stop offset="1" stop-color="#472c7a"/></linearGradient>
<linearGradient id="vm" x1="0" y1="0" x2="0" y2="1"><stop offset="0" stop-color="#fff"/><stop offset="1" stop-color="#000"/></linearGradient>
<mask id="m" maskContentUnits="objectBoundingBox"><rect width="1" height="1" fill="url(#vm)"/></mask>
<linearGradient id="cb" x1="0" y1="0" x2="0" y2="1"><stop offset="0" stop-color="#fde725"/><stop offset="0.01562" stop-color="#f6e620"/><stop offset="0.03125" stop-color="#ece51b"/><stop offset="0.04688" stop-color="#e2e418"/><stop offset="0.0625" stop-color="#d8e219"/><stop offset="0.07812" stop-color="#cde11d"/><stop offset="0.09375" stop-color="#c2df23"/><stop offset="0.1094" stop-color="#b8de29"/><stop offset="0.125" stop-color="#addc30"/><stop offset="0.1406" stop-color="#a2da37"/><stop offset="0.1562" stop-color="#98d83e"/><stop offset="0.1719" stop-color="#8ed645"/><stop offset="0.1875" stop-color="#84d44b"/><stop offset="0.2031" stop-color="#7ad151"/><stop offset="0.2188" stop-color="#70cf57"/><stop offset="0.2344" stop-color="#67cc5c"/><stop offset="0.25" stop-color="#5ec962"/><stop offset="0.2656" stop-color="#56c667"/><stop offset="0.2812" stop-color="#4ec36b"/><stop offset="0.2969" stop-color="#46c06f"/><stop offset="0.3125" stop-color="#3fbc73"/><stop offset="0.3281" stop-color="#38b977"/><stop offset="0.3438" stop-color="#32b67a"/><stop offset="0.3594" stop-color="#2db27d"/><stop offset="0.375" stop-color="#28ae80"/><stop offset="0.3906" stop-color="#25ab82"/><stop offset="0.4062" stop-color="#22a785"/><stop offset="0.4219" stop-color="#20a386"/><stop offset="0.4375" stop-color="#1fa088"/><stop offset="0.4531" stop-color="#1e9c89"/><stop offset="0.4688" stop-color="#1f988b"/><stop offset="0.4844" stop-color="#1f948c"/><stop offset="0.5" stop-color="#21918c"/><stop offset="0.5156" stop-color="#228d8d"/><stop offset="0.5312" stop-color="#23898e"/><stop offset="0.5469" stop-color="#25858e"/><stop offset="0.5625" stop-color="#26828e"/><stop offset="0.5781" stop-color="#277e8e"/><stop offset="0.5938" stop-color="#297a8e"/><stop offset="0.6094" stop-color="#2a768e"/><stop offset="0.625" stop-color="#2c728e"/><stop offset="0.6406" stop-color="#2e6f8e"/><stop offset="0.6562" stop-color="#2f6b8e"/><stop offset="0.6719" stop-color="#31678e"/><stop offset="0.6875" stop-color="#33638d"/><stop offset="0.7031" stop-color="#355f8d"/><stop offset="0.7188" stop-color="#375b8d"/><stop offset="0.7344" stop-color="#39568c"/><stop offset="0.75" stop-color="#3b528b"/><stop offset="0.7656" stop-color="#3d4e8a"/><stop offset="0.7812" stop-color="#3e4989"/><stop offset="0.7969" stop-color="#404588"/><stop offset="0.8125" stop-color="#424086"/><stop offset="0.8281" stop-color="#443b84"/><stop offset="0.8438" stop-color="#453781"/><stop offset="0.8594" stop-color="#46327e"/><stop offset="0.875" stop-color="#472d7b"/><stop offset="0.8906" stop-color="#482878"/><stop offset="0.9062" stop-color="#482374"/><stop offset="0.9219" stop-color="#481d6f"/><stop offset="0.9375" stop-color="#48186a"/><stop offset="0.9531" stop-color="#471365"/><stop offset="0.9688" stop-color="#470d60"/><stop offset="0.9844" stop-color="#46075a"/><stop offset="1" stop-color="#440154"/></linearGradient>
<clipPath id="ax"><rect x="130.10" y="10.50" width="679.60" height="667.20"/></clipPath>
</defs>
<rect width="1025" height="769" fill="#fff"/>
<g clip-path="url(#ax)">
<rect x="130.10" y="10.50" width="679.60" height="667.20" fill="#482878"/>
<rect x="130.10" y="10.00" width="679.60" height="24.00" fill="url(#r28)"/><rect x="130.10" y="10.00" width="679.60" height="24.00" fill="#482878" mask="url(#m)"/>
<rect x="130.10" y="34.00" width="679.60" height="24.00" fill="url(#r27)"/><rect x="130.10" y="34.00" width="679.60" height="24.00" fill="url(#r28)" mask="url(#m)"/>
<rect x="130.10" y="58.00" width="679.60" height="24.00" fill="#482878"/><rect x="130.10" y="58.00" width="679.60" height="24.00" fill="url(#r27)" mask="url(#m)"/>
<rect x="130.10" y="130.00" width="679.60" height="23.00" fill="url(#r23)"/><rect x="130.10" y="130.00" width="679.60" height="23.00" fill="#482878" mask="url(#m)"/>
<rect x="130.10" y="153.00" width="679.60" height="24.00" fill="#482878"/><rect x="130.10" y="153.00" width="679.60" height="24.00" fill="url(#r23)" mask="url(#m)"/>
<rect x="130.10" y="177.00" width="679.60" height="24.00" fill="url(#r21)"/><rect x="130.10" y="177.00" width="679.60" height="24.00" fill="#482878" mask="url(#m)"/>
<rect x="130.10" y="201.00" width="679.60" height="24.00" fill="url(#r20)"/><rect x="130.10" y="201.00" width="679.60" height="24.00" fill="url(#r21)" mask="url(#m)"/>
<rect x="130.10" y="225.00" width="679.60" height="12.00" fill="url(#r19)"/><rect x="130.10" y="225.00" width="679.60" height="12.00" fill="url(#r20)" mask="url(#m)"/>
<rect x="130.10" y="237.00" width="679.60" height="12.00" fill="url(#r18)"/><rect x="130.10" y="237.00" width="679.60" height="12.00" fill="url(#r19)" mask="url(#m)"/>
<rect x="130.10" y="249.00" width="679.60" height="24.00" fill="url(#r17)"/><rect x="130.10" y="249.00" width="679.60" height="24.00" fill="url(#r18)" mask="url(#m)"/>
<rect x="130.10" y="273.00" width="679.60" height="23.00" fill="url(#r16)"/><rect x="130.10" y="273.00" width="679.60" height="23.00" fill="url(#r17)" mask="url(#m)"/>
<rect x="130.10" y="296.00" width="679.60" height="24.00" fill="url(#r15)"/><rect x="130.10" y="296.00" width="679.60" height="24.00" fill="url(#r16)" mask="url(#m)"/>
<rect x="130.10" y="320.00" width="679.60" height="24.00" fill="url(#r14)"/><rect x="130.10" y="320.00" width="679.60" height="24.00" fill="url(#r15)" mask="url(#m)"/>
<rect x="130.10" y="344.00" width="679.60" height="24.00" fill="url(#r13)"/><rect x="130.10" y="344.00" width="679.60" height="24.00" fill="url(#r14)" mask="url(#m)"/>
<rect x="130.10" y="368.00" width="679.60" height="24.00" fill="url(#r12)"/><rect x="130.10" y="368.00" width="679.60" height="24.00" fill="url(#r13)" mask="url(#m)"/>
<rect x="130.10" y="392.00" width="679.60" height="24.00" fill="url(#r11)"/><rect x="130.10" y="392.00" width="679.60" height="24.00" fill="url(#r12)" mask="url(#m)"/>
<rect x="130.10" y="416.00" width="679.60" height="23.00" fill="url(#r10)"/><rect x="130.10" y="416.00" width="679.60" height="23.00" fill="url(#r11)" mask="url(#m)"/>
<rect x="130.10" y="439.00" width="679.60" height="24.00" fill="url(#r9)"/><rect x="130.10" y="439.00" width="679.60" height="24.00" fill="url(#r10)" mask="url(#m)"/>
<rect x="130.10" y="463.00" width="679.60" height="24.00" fill="url(#r8)"/><rect x="130.10" y="463.00" width="679.60" height="24.00" fill="url(#r9)" mask="url(#m)"/>
<rect x="130.10" y="487.00" width="679.60" height="24.00" fill="url(#r7)"/><rect x="130.10" y="487.00" width="679.60" height="24.00" fill="url(#r8)" mask="url(#m)"/>
<rect x="130.10" y="511.00" width="679.60" height="24.00" fill="url(#r6)"/><rect x="130.10" y="511.00" width="679.60" height="24.00" fill="url(#r7)" mask="url(#m)"/>
<rect x="130.10" y="535.00" width="679.60" height="24.00" fill="url(#r5)"/><rect x="130.10" y="535.00" width="679.60" height="24.00" fill="url(#r6)" mask="url(#m)"/>
<rect x="130.10" y="559.00" width="679.60" height="23.00" fill="url(#r4)"/><rect x="130.10" y="559.00" width="679.60" height="23.00" fill="url(#r5)" mask="url(#m)"/>
<rect x="130.10" y="582.00" width="679.60" height="24.00" fill="url(#r3)"/><rect x="130.10" y="582.00" width="679.60" height="24.00" fill="url(#r4)" mask="url(#m)"/>
<rect x="130.10" y="606.00" width="679.60" height="24.00" fill="url(#r2)"/><rect x="130.10" y="606.00" width="679.60" height="24.00" fill="url(#r3)" mask="url(#m)"/>
<rect x="130.10" y="630.00" width="679.60" height="24.00" fill="url(#r1)"/><rect x="130.10" y="630.00" width="679.60" height="24.00" fill="url(#r2)" mask="url(#m)"/>
<rect x="130.10" y="654.00" width="679.60" height="24.00" fill="url(#r0)"/><rect x="130.10" y="654.00" width="679.60" height="24.00" fill="url(#r1)" mask="url(#m)"/>
<polyline points="130.1,462.5 131.6,462.5 133.2,462.5 134.7,462.5 136.3,462.5 137.8,462.5 139.4,462.5 140.9,462.5 142.5,462.5 144.0,462.5 145.6,462.5 147.1,462.5 148.7,462.5 150.2,462.5 151.8,462.5 153.3,462.4 154.9,462.4 156.4,462.4 158.0,462.4 159.5,462.3 161.1,462.3 162.6,462.3 164.2,462.2 165.7,462.2 167.3,462.1 168.8,462.1 170.4,462.0 171.9,461.9 173.4,461.8 175.0,461.7 176.5,461.6 178.1,461.5 179.6,461.4 181.2,461.3 182.7,461.2 184.3,461.0 185.8,460.8 187.4,460.7 188.9,460.5 190.5,460.3 192.0,460.1 193.6,459.9 195.1,459.7 196.7,459.4 198.2,459.2 199.8,458.9 201.3,458.6 202.9,458.3 204.4,458.0 206.0,457.7 207.5,457.3 209.1,456.9 210.6,456.5 212.2,456.1 213.7,455.7 215.2,455.3 216.8,454.8 218.3,454.3 219.9,453.8 221.4,453.3 223.0,452.7 224.5,452.1 226.1,451.5 227.6,450.9 229.2,450.3 230.7,449.6 232.3,448.9 233.8,448.2 235.4,447.4 236.9,446.6 238.5,445.8 240.0,445.0 241.6,444.1 243.1,443.2 244.7,442.3 246.2,441.4 247.8,440.4 249.3,439.4 250.9,438.3 252.4,437.2 254.0,436.1 255.5,435.0 257.0,433.8 258.6,432.6 260.1,431.3 261.7,430.0 263.2,428.7 264.8,427.3 266.3,425.9 267.9,424.5 269.4,423.0 271.0,421.5 272.5,420.0 274.1,418.4 275.6,416.7 277.2,415.0 278.7,413.3 280.3,411.6 281.8,409.8 283.4,407.9 284.9,406.0 286.5,404.1 288.0,402.1 289.6,400.1 291.1,398.0 292.7,395.9 294.2,393.7 295.8,391.5 297.3,389.3 298.9,387.0 300.4,384.6 301.9,382.2 303.5,379.7 305.0,377.2 306.6,374.7 308.1,372.1 309.7,369.4 311.2,366.7 312.8,364.0 314.3,361.2 315.9,358.3 317.4,355.4 319.0,352.4 320.5,349.4 322.1,346.4 323.6,343.2 325.2,340.1 326.7,336.8 328.3,333.5 329.8,330.2 331.4,326.8 332.9,323.3 334.5,319.8 336.0,316.3 337.6,312.7 339.1,309.0 340.7,305.2 342.2,301.5 343.7,297.6 345.3,293.7 346.8,289.8 348.4,285.7 349.9,281.7 351.5,277.5 353.0,273.4 354.6,269.1 356.1,264.8 357.7,260.5 359.2,256.0 360.8,251.6 362.3,247.0 363.9,242.4 365.4,237.8 367.0,233.1 368.5,228.3 370.1,223.5 371.6,218.6 373.2,213.7 374.7,208.7 376.3,203.7 377.8,198.6 379.4,193.4 380.9,188.2 382.5,182.9 384.0,177.6 385.5,172.2 387.1,166.8 388.6,161.3 390.2,155.7 391.7,150.1 393.3,144.5 394.8,138.8 396.4,133.0 397.9,127.2 399.5,121.3 401.0,115.4 402.6,109.4 404.1,103.4 405.7,97.3 407.2,91.1 408.8,84.9 410.3,78.7 411.9,72.4 413.4,66.1 415.0,59.7 416.5,53.3 418.1,46.8 419.6,40.3 421.2,33.7 422.7,27.0 424.3,20.4 425.8,13.7 427.3,6.9 428.9,0.1 430.4,-6.8 432.0,-13.7 433.5,-20.6 435.1,-27.6 436.6,-34.6 438.2,-41.7" fill="none" stroke="#ff7f0e" stroke-width="3.75" stroke-dasharray="12.6 5.46"/>
</g>
<rect x="513" y="24.5" width="281.9" height="54.8" rx="5" ry="5" fill="#fff" fill-opacity="0.8" stroke="#ccc" stroke-opacity="0.8" stroke-width="1.8"/>
<line x1="524" y1="48.8" x2="585" y2="48.8" stroke="#ff7f0e" stroke-width="3.75" stroke-dasharray="12.6 5.46"/>
<text x="607.3" y="60.6" style="font-size:29.8px">m = 0.5 mg</text>
<rect x="130.10" y="10.50" width="679.60" height="667.20" fill="none" stroke="#000" stroke-width="1.8"/>
<line x1="130.10" y1="677.70" x2="130.10" y2="686.20" stroke="#000" stroke-width="1.8"/><text x="129.30" y="716.60" text-anchor="middle">0</text>
<line x1="243.37" y1="677.70" x2="243.37" y2="686.20" stroke="#000" stroke-width="1.8"/><text x="242.57" y="716.60" text-anchor="middle">5</text>
<line x1="356.63" y1="677.70" x2="356.63" y2="686.20" stroke="#000" stroke-width="1.8"/><text x="355.83" y="716.60" text-anchor="middle">10</text>
<line x1="469.90" y1="677.70" x2="469.90" y2="686.20" stroke="#000" stroke-width="1.8"/><text x="469.10" y="716.60" text-anchor="middle">15</text>
<line x1="583.17" y1="677.70" x2="583.17" y2="686.20" stroke="#000" stroke-width="1.8"/><text x="582.37" y="716.60" text-anchor="middle">20</text>
<line x1="696.43" y1="677.70" x2="696.43" y2="686.20" stroke="#000" stroke-width="1.8"/><text x="695.63" y="716.60" text-anchor="middle">25</text>
<line x1="809.70" y1="677.70" x2="809.70" y2="686.20" stroke="#000" stroke-width="1.8"/><text x="808.90" y="716.60" text-anchor="middle">30</text>
<line x1="121.60" y1="34.76" x2="130.10" y2="34.76" stroke="#000" stroke-width="1.8"/><text x="112.10" y="47.36" text-anchor="end">0.4</text>
<line x1="121.60" y1="129.88" x2="130.10" y2="129.88" stroke="#000" stroke-width="1.8"/><text x="112.10" y="142.48" text-anchor="end">0.2</text>
<line x1="121.60" y1="225.00" x2="130.10" y2="225.00" stroke="#000" stroke-width="1.8"/><text x="112.10" y="237.60" text-anchor="end">0.0</text>
<line x1="121.60" y1="320.12" x2="130.10" y2="320.12" stroke="#000" stroke-width="1.8"/><text x="112.10" y="332.72" text-anchor="end">−0.2</text>
<line x1="121.60" y1="415.24" x2="130.10" y2="415.24" stroke="#000" stroke-width="1.8"/><text x="112.10" y="427.84" text-anchor="end">−0.4</text>
<line x1="121.60" y1="510.36" x2="130.10" y2="510.36" stroke="#000" stroke-width="1.8"/><text x="112.10" y="522.96" text-anchor="end">−0.6</text>
<line x1="121.60" y1="605.48" x2="130.10" y2="605.48" stroke="#000" stroke-width="1.8"/><text x="112.10" y="618.08" text-anchor="end">−0.8</text>
<text x="470" y="759.2" text-anchor="middle" style="font-size:29.8px">Time [<tspan font-style="italic">µ</tspan>s]</text>
<text transform="translate(24.8,347.7) rotate(-90)" text-anchor="middle" style="font-size:29.8px">Z [m]</text>
<rect x="852.40" y="10.50" width="34.20" height="667.20" fill="url(#cb)" stroke="#000" stroke-width="1.8"/>
<line x1="886.60" y1="677.70" x2="895.10" y2="677.70" stroke="#000" stroke-width="1.8"/><text x="902.70" y="689.90">−100</text>
<line x1="886.60" y1="603.57" x2="895.10" y2="603.57" stroke="#000" stroke-width="1.8"/><text x="902.70" y="615.77">0</text>
<line x1="886.60" y1="529.43" x2="895.10" y2="529.43" stroke="#000" stroke-width="1.8"/><text x="902.70" y="541.63">100</text>
<line x1="886.60" y1="455.30" x2="895.10" y2="455.30" stroke="#000" stroke-width="1.8"/><text x="902.70" y="467.50">200</text>
<line x1="886.60" y1="381.17" x2="895.10" y2="381.17" stroke="#000" stroke-width="1.8"/><text x="902.70" y="393.37">300</text>
<line x1="886.60" y1="307.03" x2="895.10" y2="307.03" stroke="#000" stroke-width="1.8"/><text x="902.70" y="319.23">400</text>
<line x1="886.60" y1="232.90" x2="895.10" y2="232.90" stroke="#000" stroke-width="1.8"/><text x="902.70" y="245.10">500</text>
<line x1="886.60" y1="158.77" x2="895.10" y2="158.77" stroke="#000" stroke-width="1.8"/><text x="902.70" y="170.97">600</text>
<line x1="886.60" y1="84.63" x2="895.10" y2="84.63" stroke="#000" stroke-width="1.8"/><text x="902.70" y="96.83">700</text>
<line x1="886.60" y1="10.50" x2="895.10" y2="10.50" stroke="#000" stroke-width="1.8"/><text x="902.70" y="22.70">800</text>
<text transform="translate(1016,346.6) rotate(-90)" text-anchor="middle" style="font-size:29.5px"><tspan font-style="italic">I</tspan><tspan font-style="italic" style="font-size:20.65px" dx="-2.3" dy="4.6">enc</tspan><tspan dy="-4.6"> Experiment [kA], r=9.32 cm</tspan></text>
</svg>
</body></html>
